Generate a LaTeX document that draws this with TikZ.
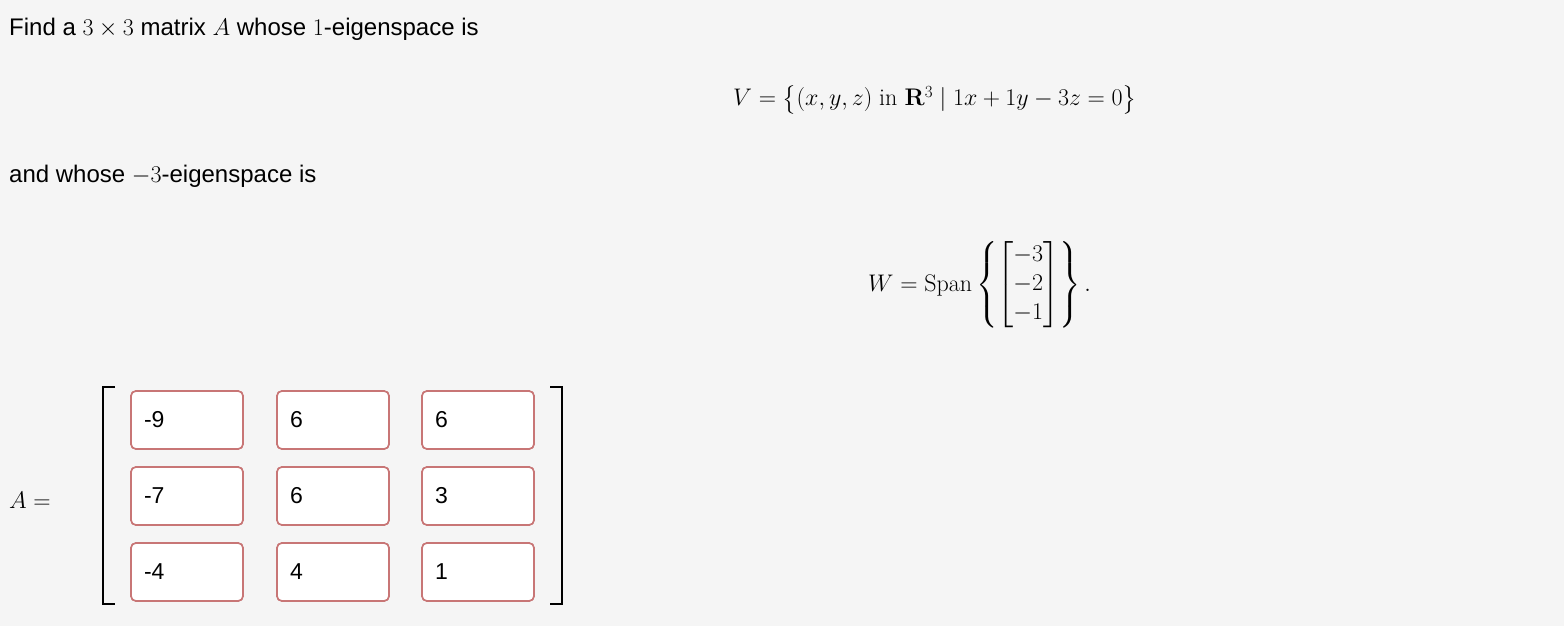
\documentclass[tikz,border=0pt]{standalone}
\usepackage{fix-cm}
\usepackage{amsmath,amssymb}
\usepackage[no-math]{fontspec}
\setsansfont{Liberation Sans}
\DeclareMathSizes{24}{24}{17}{12}
\DeclareMathSizes{23}{23}{16}{12}
\definecolor{boxc}{RGB}{200,118,118}
\begin{document}
\begin{tikzpicture}[x=1pt,y=-1pt,
  txt/.style={inner sep=0pt,font=\fontsize{24}{29}\selectfont\sffamily},
  cell/.style={draw=boxc,line width=1.6pt,rounded corners=5pt,fill=white,minimum width=112pt,minimum height=58pt,inner sep=0pt,font=\fontsize{23}{28}\selectfont\sffamily,text width=86pt,align=left}]
\fill[gray!8] (0,0) rectangle (1564,626);
\useasboundingbox (0,0) rectangle (1564,626);
\node[txt,anchor=base west] (t1) at (9,36) {Find a $3\times3$ matrix $A$ whose $1$-eigenspace is};
\node[txt,anchor=base west] (t2) at (9,182) {and whose $-3$-eigenspace is};
\node[txt,anchor=west] (v) at (733,100) {$V=\bigl\{(x,y,z)\text{ \rmfamily in }\mathbf{R}^3\mid 1x+1y-3z=0\bigr\}$};
\node[txt,anchor=west] (w) at (868,285) {$W=\text{\rmfamily Span}\left\{\begin{bmatrix}-3\\-2\\-1\end{bmatrix}\right\}.$};
\node[txt,anchor=west] (a) at (9,500) {$A=$};
\foreach \r/\y in {1/420,2/496,3/572}{
  \foreach \c/\x in {1/187,2/333,3/478}{
    \node[cell] (m\r\c) at (\x,\y) {};
  }}
\node[cell] at (m11) {-9}; \node[cell] at (m12) {6}; \node[cell] at (m13) {6};
\node[cell] at (m21) {-7}; \node[cell] at (m22) {6}; \node[cell] at (m23) {3};
\node[cell] at (m31) {-4}; \node[cell] at (m32) {4}; \node[cell] at (m33) {1};
\draw[line width=2.4pt] (115,387) -- (103,387) -- (103,604) -- (115,604);
\draw[line width=2.4pt] (550,387) -- (562,387) -- (562,604) -- (550,604);
\end{tikzpicture}
\end{document}
